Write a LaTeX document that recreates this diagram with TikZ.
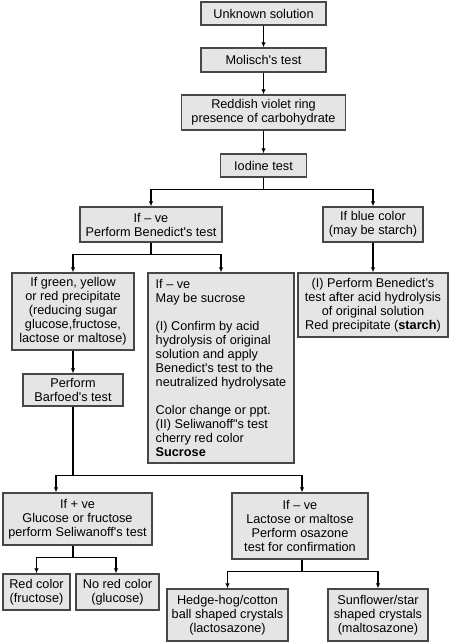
\documentclass[tikz,border=0pt]{standalone}
\usepackage{fontspec}
\setmainfont{Liberation Sans}[Ligatures=TeXOff]
\usetikzlibrary{positioning,arrows.meta}
\begin{document}
\begin{tikzpicture}[x=1pt, y=-1pt, node distance=46.5pt,
                box/.style={draw=black!72, line width=1.4pt, fill=black!10, inner sep=0pt, align=center, font=\fontsize{12.7}{14}\selectfont},
                arr/.style={line width=1.4pt, -{Latex[length=5pt,width=4.5pt]}}]
                \useasboundingbox (0,0) rectangle (450,643);
                \node [box, minimum width=125pt, minimum height=23pt] (u) at (263.5,13.5) {Unknown solution};
                \node [box, minimum width=125pt, minimum height=24pt, below of=u] (m) {Molisch's test};
                \node [box, minimum width=164pt, minimum height=35pt, yshift=-6pt, below of=m] (r) {Reddish violet ring\\presence of carbohydrate};
                \node [box, minimum width=86pt, minimum height=23pt, yshift=-6.5pt, below of=r] (i) {Iodine test};
                \node [box, minimum width=142pt, minimum height=35pt] (b) at (151,224.5) {If – ve\\Perform Benedict's test};
                \node [box, minimum width=100pt, minimum height=35pt] (bl) at (373,224.5) {If blue color\\(may be starch)};
                \node [box, minimum width=122pt, minimum height=77pt] (g) at (73,311.5) {If green, yellow\\or red precipitate\\(reducing sugar\\glucose,fructose,\\lactose or maltose)};
                \node [box, align=left, minimum width=146pt, minimum height=190pt] (s) at (221,368) {If – ve\\May be sucrose\\[14pt](I) Confirm by acid\\hydrolysis of original\\solution and apply\\Benedict's test to the\\neutralized hydrolysate\\[14pt]Color change or ppt.\\(II) Seliwanoff"s test\\cherry red color\\\textbf{Sucrose}};
                \node [box, minimum width=150pt, minimum height=64pt] (st) at (373,305) {(I) Perform Benedict’s\\test after acid hydrolysis\\of original solution\\Red precipitate (\textbf{starch})};
                \node [box, minimum width=100pt, minimum height=32pt] (f) at (73,390) {Perform\\Barfoed's test};
                \node [box, minimum width=149pt, minimum height=52pt] (p) at (77.5,519) {If + ve\\Glucose or fructose\\perform Seliwanoff's test};
                \node [box, minimum width=136pt, minimum height=66pt] (n) at (300,526) {If – ve\\Lactose or maltose\\Perform osazone\\test for confirmation};
                \node [box, minimum width=67pt, minimum height=36pt] (fr) at (36.5,592) {Red color\\(fructose)};
                \node [box, minimum width=83pt, minimum height=36pt] (gl) at (117.5,592) {No red color\\(glucose)};
                \node [box, minimum width=121pt, minimum height=52pt] (h) at (227.5,615) {Hedge-hog/cotton\\ball shaped crystals\\(lactosazone)};
                \node [box, minimum width=100pt, minimum height=52pt] (sf) at (378,615) {Sunflower/star\\shaped crystals\\(maltosazone)};
                \draw [arr] (u) -- (m);
                \draw [arr] (m) -- (r);
                \draw [arr] (r) -- (i);
                \draw [arr] (i.south) -- ++(0,12) -| (b.north);
                \draw [arr] (i.south) -- ++(0,12) -| (bl.north);
                \draw [arr] (b.south) -- ++(0,12) -| (g.north);
                \draw [arr] (b.south) -- ++(0,12) -| (s.north);
                \draw [arr] (bl) -- (st);
                \draw [arr] (g) -- (f);
                \draw [arr] (f.south) -- ++(0,69) -| ([xshift=-21.5pt]p.north);
                \draw [arr] (f.south) -- ++(0,69) -| ([xshift=2pt]n.north);
                \draw [arr] ([xshift=-4.5pt]p.south) -- ++(0,12) -| (fr.north);
                \draw [arr] ([xshift=-4.5pt]p.south) -- ++(0,12) -| ([xshift=-1.5pt]gl.north);
                \draw [arr] ([xshift=2pt]n.south) -- ++(0,12) -| (h.north);
                \draw [arr] ([xshift=2pt]n.south) -- ++(0,12) -| (sf.north);
            \end{tikzpicture}
\end{document}
